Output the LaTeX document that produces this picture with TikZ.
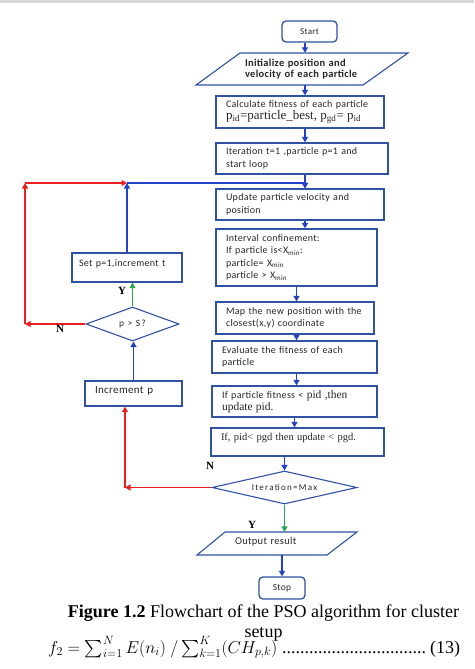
\documentclass[tikz,border=0pt]{standalone}
\usepackage{amsmath}
\usepackage{fontspec}
\setmainfont{Liberation Serif}
\newfontfamily\boxfont[LetterSpace=3]{Carlito}
\newfontfamily\widefont[LetterSpace=14]{Carlito}
\usetikzlibrary{shapes.geometric,arrows.meta}
\definecolor{boxblue}{RGB}{47,82,163}
\definecolor{lineblue}{RGB}{35,65,200}
\definecolor{linered}{RGB}{232,32,32}
\definecolor{linegreen}{RGB}{40,165,75}

\begin{document}
\begin{tikzpicture}[x=1pt,y=-1pt,>={Triangle[length=5.5pt,width=6pt]}]
  \tikzstyle{proc}=[draw=boxblue,line width=1.3pt,align=left,inner xsep=10pt,font=\boxfont\fontsize{10}{12.5}\selectfont,text=black!85]
  \tikzstyle{term}=[proc,rounded corners=4pt,align=center,inner xsep=0pt,font=\boxfont\fontsize{9}{10}\selectfont]
  \tikzstyle{decide}=[diamond,draw=boxblue,line width=1.1pt,inner sep=0pt,font=\widefont\fontsize{9.5}{10}\selectfont,text=black!85]
  \tikzstyle{io}=[align=left,inner xsep=0pt,text=black!85]
  \tikzstyle{iobox}=[draw=boxblue,line width=1.1pt]
  \tikzstyle{flow}=[color=lineblue,line width=1.2pt,->]
  \tikzstyle{noflow}=[flow,color=linered]
  \tikzstyle{yesflow}=[flow,color=linegreen]
  \tikzstyle{tag}=[font=\bfseries\fontsize{11}{11}\selectfont]
  \useasboundingbox (0,0) rectangle (474,669);
  \fill[black!15] (0,0) rectangle (474,3);

  % main column
  \node[term,minimum width=55,minimum height=21] (start) at (309.5,31.5) {Start};
  \node[io,font=\boxfont\bfseries\fontsize{10.5}{10.5}\selectfont,text width=120,minimum height=32] (init) at (305,69) {Initialize position and\\velocity of each particle};
  \draw[iobox] (240,53) -- (408,53) -- (363,85) -- (196,85) -- cycle;
  \node[proc,text width=148,minimum height=32] (calc) at (300,112) {Calculate fitness of each particle\\{\rmfamily\fontsize{13}{13}\selectfont p\textsubscript{id}=particle\_best, p\textsubscript{gd}= p\textsubscript{id}}};
  \node[proc,text width=152,minimum height=31] (iter) at (302,158.5) {Iteration t=1 ,particle p=1 and\\start loop};
  \node[proc,text width=148,minimum height=31] (upd) at (300,204.5) {Update particle velocity and\\position};
  \node[proc,text width=141,minimum height=57] (intv) at (296.5,257.5) {Interval confinement:\\If particle is<X\textsubscript{min}:\\particle= X\textsubscript{min}\\particle > X\textsubscript{min}};
  \node[proc,text width=138,minimum height=32] (map) at (295,318) {Map the new position with the\\closest(x,y) coordinate};
  \node[proc,text width=145,minimum height=32] (eval) at (294.5,357) {Evaluate the fitness of each\\particle};
  \node[proc,text width=145,minimum height=31] (ifit) at (294.5,401.5) {If particle fitness < {\rmfamily\fontsize{11.5}{12.5}\selectfont pid ,then}\\{\rmfamily\fontsize{11.5}{12.5}\selectfont update pid.}};
  \node[proc,text width=153,minimum height=28,text depth=11pt] (igid) at (297.5,442) {\rmfamily\fontsize{10.5}{12}\selectfont If, pid< pgd then update < pgd.};
  \node[decide,minimum width=145,minimum height=33,font=\widefont\fontsize{9}{10}\selectfont] (imax) at (284.5,487.5) {\makebox[0pt]{Iteration=Max}};
  \node[io,font=\boxfont\fontsize{10.5}{11}\selectfont,text width=94,minimum height=23,text depth=5pt] (out) at (282,543.5) {Output result};
  \draw[iobox] (225,532) -- (357,532) -- (327,555) -- (197,555) -- cycle;
  \node[term,minimum width=46,minimum height=22,font=\boxfont\fontsize{9.5}{10}\selectfont] (stop) at (282,588) {Stop};

  % loop column
  \node[proc,text width=96,inner xsep=7pt,minimum height=29,text depth=9pt,font=\boxfont\fontsize{10}{11}\selectfont] (setp) at (127,267.5) {Set p=1,increment t};
  \node[decide,minimum width=93,minimum height=34] (psq) at (132.5,324) {\makebox[0pt]{p > S?}};
  \node[proc,text width=77,minimum height=25,text depth=7pt,font=\boxfont\fontsize{11}{11}\selectfont] (incp) at (133.5,393.5) {Increment p};
  \coordinate (join) at (127,183);
  \coordinate (nw) at (25,183);
  \coordinate (sw) at (25,324);
  \coordinate (se) at (125,487.5);

  \draw[flow] (init.north |- start.south) -- (init.north);
  \draw[flow] (init.south) -- (init.south |- calc.north);
  \draw[flow] (calc.south -| init.south) -- (iter.north -| init.south);
  \draw[flow] (iter.south -| init.south) -- (upd.north -| init.south);
  \draw[flow] (upd.south -| init.south) -- (intv.north -| init.south);
  \draw[flow] (intv.south) -- (intv.south |- map.north);
  \draw[flow] (map.south -| intv.south) -- (eval.north -| intv.south);
  \draw[flow] (eval.south -| intv.south) -- (ifit.north -| intv.south);
  \draw[flow] (ifit.south) -- (ifit.south |- igid.north);
  \draw[flow] (igid.south -| imax.north) -- (imax.north);
  \draw[yesflow] (imax.south) -- (imax.south |- out.north);
  \draw[flow] (out.south -| stop.north) -- (stop.north);

  \draw[flow] (incp.north) -- (incp.north |- psq.south);
  \draw[yesflow] (psq.north) -- (psq.north |- setp.south);
  \draw[flow] (setp.north) -- (join);
  \draw[flow] (join) -- (join -| init.south) -- (upd.north -| init.south);
  \draw[noflow] (psq.west) -- (sw);
  \draw[noflow] (sw) -- (nw);
  \draw[noflow] (nw) -- (join);
  \draw[noflow] (imax.west) -- (se);
  \draw[noflow] (se) -- (se |- incp.south);

  \node[tag] (y1) at (122,291) {Y};
  \node[tag] (n1) at (60,329) {N};
  \node[tag] (n2) at (210,466) {N};
  \node[tag] (y2) at (252,525) {Y};

  % caption
  \node[anchor=base,font=\fontsize{18}{20}\selectfont] (cap) at (263.5,617) {\textbf{Figure 1.2} Flowchart of the PSO algorithm for cluster};
  \node[anchor=base,font=\fontsize{18}{20}\selectfont] (cap2) at (263.5,637) {setup};
  \node[anchor=base west,inner sep=0pt,font=\fontsize{18}{20}\selectfont] (eq) at (48,653) {\hbox to 412pt{$f_2=\sum_{i=1}^{N}E(n_i)\ /\sum_{k=1}^{K}(CH_{p,k})$\ \leaders\hbox to 4.5pt{\hss.\hss}\hfill(13)}};
\end{tikzpicture}
\end{document}
